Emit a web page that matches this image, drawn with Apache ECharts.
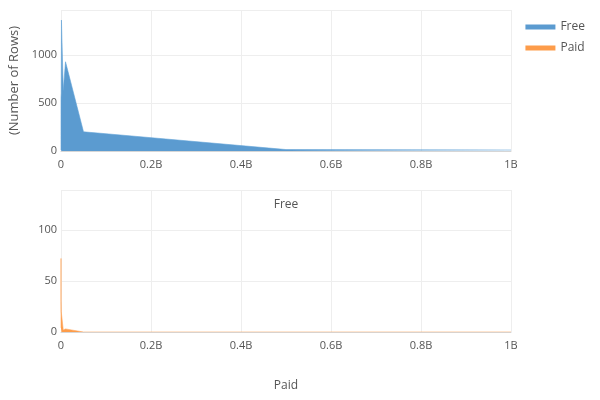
<!DOCTYPE html>
<html><head><meta charset="utf-8">
<script src="https://cdn.jsdelivr.net/npm/echarts@6/dist/echarts.min.js"></script>
<style>html,body{margin:0;padding:0;background:#fff}#c{width:600px;height:400px}</style>
</head><body><div id="c"></div>
<script>
const installs = [0, 1, 5, 10, 50, 100, 500, 1000, 5000, 10000, 50000, 100000, 500000, 1000000, 5000000, 10000000, 50000000, 100000000, 500000000, 1000000000];
const freeRows = [10, 40, 70, 120, 160, 200, 260, 320, 380, 440, 500, 560, 600, 1365, 630, 930, 200, 180, 15, 10];
const paidRows = [4, 10, 15, 25, 30, 40, 50, 60, 72, 50, 40, 30, 20, 20, 2, 3, 0, 0, 0, 0];
const xTicks = [0, 200000000, 400000000, 600000000, 800000000, 1000000000];
const xTickLabels = ['0', '0.2B', '0.4B', '0.6B', '0.8B', '1B'];
const panelTitles = ['Free', 'Paid'];
const yTitle = '(Number of Rows)';

const font = '"Open Sans", "DejaVu Sans", sans-serif';
const blue = '#5b9bd0';
const orange = '#fd9c4a';
const pair = (vals) => installs.map((x, i) => [x, vals[i]]);
const xAxisBase = (gi, name) => ({
  gridIndex: gi, type: 'value', min: 0, max: 1e9, interval: 2e8,
  axisLine: { show: true, onZero: false, lineStyle: { color: '#d6d6d6' } },
  axisTick: { show: false },
  splitLine: { show: true, lineStyle: { color: '#eeeeee' } },
  axisLabel: { color: '#555', fontFamily: font, fontSize: 11, margin: 8,
    formatter: v => { const i = xTicks.indexOf(v); return i >= 0 ? xTickLabels[i] : ''; } },
  name: name, nameLocation: 'middle', nameGap: 48,
  nameTextStyle: { color: '#555', fontFamily: font, fontSize: 12 }
});
const yLabel = { color: '#555', fontFamily: font, fontSize: 11, margin: 4, showMaxLabel: false,
  formatter: v => (v % 50 === 0 ? String(v) : '') };
const chart = echarts.init(document.getElementById('c'), null, { renderer: 'canvas' });
chart.setOption({
  animation: false,
  backgroundColor: '#fff',
  legend: {
    right: 10, top: 16, orient: 'vertical', itemGap: 9, itemWidth: 30, itemHeight: 5,
    icon: 'rect', textStyle: { color: '#555', fontFamily: font, fontSize: 12 },
    data: [{ name: 'Free', itemStyle: { color: blue } }, { name: 'Paid', itemStyle: { color: orange } }]
  },
  grid: [
    { left: 61, right: 89, top: 10, height: 141, containLabel: false, outerBoundsMode: 'none' },
    { left: 61, right: 89, top: 190, height: 142, containLabel: false, outerBoundsMode: 'none' }
  ],
  xAxis: [xAxisBase(0, panelTitles[0]), xAxisBase(1, panelTitles[1])],
  yAxis: [
    { gridIndex: 0, type: 'value', min: 0, max: 1470, interval: 500,
      axisLine: { show: false }, axisTick: { show: false },
      splitLine: { lineStyle: { color: '#eeeeee' } }, axisLabel: yLabel,
      name: yTitle, nameLocation: 'middle', nameGap: 36, nameRotate: 90,
      nameTextStyle: { color: '#555', fontFamily: font, fontSize: 13 } },
    { gridIndex: 1, type: 'value', min: 0, max: 139, interval: 50,
      axisLine: { show: false }, axisTick: { show: false },
      splitLine: { lineStyle: { color: '#eeeeee' } }, axisLabel: yLabel }
  ],
  series: [
    { name: 'Free', type: 'line', xAxisIndex: 0, yAxisIndex: 0, data: pair(freeRows),
      showSymbol: false, lineStyle: { width: 0.6, color: '#62a2d6' }, itemStyle: { color: blue },
      areaStyle: { color: blue, opacity: 1 } },
    { name: 'Paid', type: 'line', xAxisIndex: 1, yAxisIndex: 1, data: pair(paidRows),
      showSymbol: false, lineStyle: { width: 0.6, color: '#ffa860' }, itemStyle: { color: orange },
      areaStyle: { color: orange, opacity: 1 } }
  ]
});
</script></body></html>
